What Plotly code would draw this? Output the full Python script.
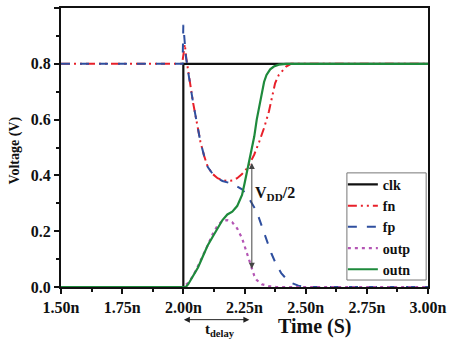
import plotly.graph_objects as go

# ---- data (time in ns, voltage in V) ----
clk_t = [1.5, 2.0, 2.0, 3.0]
clk_v = [0.0, 0.0, 0.8, 0.8]

fn_t = [1.5, 1.995, 2.0, 2.006, 2.012, 2.02, 2.03, 2.04, 2.055, 2.07, 2.085, 2.10,
        2.12, 2.14, 2.16, 2.18, 2.20, 2.22, 2.24, 2.26, 2.27, 2.29, 2.31, 2.33,
        2.35, 2.365, 2.375, 2.39, 2.40, 2.42, 2.44, 3.0]
fn_v = [0.8, 0.8, 0.83, 0.87, 0.82, 0.77, 0.71, 0.66, 0.59, 0.52, 0.47, 0.43,
        0.405, 0.39, 0.383, 0.38, 0.382, 0.39, 0.405, 0.425, 0.44, 0.475, 0.52, 0.57,
        0.63, 0.69, 0.73, 0.76, 0.77, 0.79, 0.80, 0.80]

fp_t = [1.5, 1.997, 2.0, 2.004, 2.01, 2.02, 2.03, 2.04, 2.055, 2.07, 2.085, 2.10,
        2.12, 2.14, 2.16, 2.18, 2.20, 2.22, 2.24, 2.26, 2.28, 2.30, 2.32, 2.34,
        2.36, 2.38, 2.40, 2.42, 2.44, 2.47, 2.50, 3.0]
fp_v = [0.8, 0.8, 0.94, 0.90, 0.83, 0.77, 0.71, 0.66, 0.59, 0.52, 0.47, 0.43,
        0.405, 0.39, 0.38, 0.375, 0.37, 0.36, 0.35, 0.33, 0.30, 0.27, 0.22, 0.17,
        0.12, 0.08, 0.05, 0.03, 0.015, 0.005, 0.0, 0.0]

outp_t = [1.5, 2.0, 2.02, 2.04, 2.06, 2.08, 2.10, 2.12, 2.14, 2.16, 2.18, 2.20,
          2.22, 2.24, 2.255, 2.27, 2.28, 2.29, 2.30, 2.32, 2.35, 2.38, 3.0]
outp_v = [0.0, 0.0, 0.015, 0.04, 0.075, 0.11, 0.15, 0.19, 0.22, 0.238, 0.24, 0.232,
          0.21, 0.175, 0.135, 0.09, 0.06, 0.04, 0.025, 0.01, 0.003, 0.0, 0.0]

outn_t = [1.5, 2.01, 2.02, 2.04, 2.06, 2.08, 2.10, 2.12, 2.14, 2.16, 2.18, 2.20,
          2.22, 2.24, 2.25, 2.26, 2.27, 2.28, 2.29, 2.30, 2.31, 2.32, 2.33, 2.34,
          2.355, 2.37, 2.39, 2.42, 3.0]
outn_v = [0.0, 0.0, 0.01, 0.04, 0.07, 0.11, 0.15, 0.18, 0.21, 0.24, 0.26, 0.27,
          0.29, 0.33, 0.37, 0.41, 0.45, 0.49, 0.54, 0.60, 0.65, 0.70, 0.735, 0.76,
          0.78, 0.79, 0.797, 0.80, 0.80]

x_ticks = [1.5, 1.75, 2.0, 2.25, 2.5, 2.75, 3.0]
x_ticklabels = ["1.50n", "1.75n", "2.00n", "2.25n", "2.50n", "2.75n", "3.00n"]
x_minor = [1.625, 1.875, 2.125, 2.375, 2.625, 2.875]
y_ticks = [0.0, 0.2, 0.4, 0.6, 0.8, 1.0]
y_ticklabels = ["0.0", "0.2", "0.4", "0.6", "0.8", "1.0"]
y_minor = [0.1, 0.3, 0.5, 0.7, 0.9]

SERIF = "Liberation Serif"

fig = go.Figure()
fig.add_trace(go.Scatter(x=clk_t, y=clk_v, name="clk", mode="lines",
                         line=dict(color="#111111", width=2.2)))
fig.add_trace(go.Scatter(x=fn_t, y=fn_v, name="fn", mode="lines",
                         line=dict(color="#e8202a", width=2,
                                   dash="9px,4px,2px,4px,2px,4px")))
fig.add_trace(go.Scatter(x=fp_t, y=fp_v, name="fp", mode="lines",
                         line=dict(color="#2f4f9f", width=2, dash="9px,10px")))
fig.add_trace(go.Scatter(x=outp_t, y=outp_v, name="outp", mode="lines",
                         line=dict(color="#b455b4", width=2.2, dash="3px,4px")))
fig.add_trace(go.Scatter(x=outn_t, y=outn_v, name="outn", mode="lines",
                         line=dict(color="#1e8a3c", width=2.2)))

axis_common = dict(showgrid=False, zeroline=False, showline=True, linecolor="#111111",
                   linewidth=2, mirror=True, ticks="outside", ticklen=5, tickwidth=1.5,
                   tickcolor="#111111",
                   tickfont=dict(family=SERIF, size=16, color="#111111", weight="bold"))

fig.update_xaxes(range=[1.5, 3.0], tickmode="array", tickvals=x_ticks, ticktext=x_ticklabels,
                 minor=dict(tickmode="array", tickvals=x_minor, ticks="outside", ticklen=3,
                            tickwidth=1.5, tickcolor="#111111"),
                 **axis_common)
fig.update_yaxes(range=[0, 1.0], tickmode="array", tickvals=y_ticks, ticktext=y_ticklabels,
                 minor=dict(tickmode="array", tickvals=y_minor, ticks="outside", ticklen=3,
                            tickwidth=1.5, tickcolor="#111111"),
                 **axis_common)

annotations = [
    # V_DD/2 double arrow
    dict(x=2.28, y=0.065, ax=2.28, ay=0.45, xref="x", yref="y", axref="x", ayref="y",
         text="", showarrow=True, arrowhead=2, startarrowhead=2, arrowside="end+start",
         arrowsize=1.2, arrowwidth=1, arrowcolor="#444444"),
    dict(x=2.285, y=0.335, xref="x", yref="y", xanchor="left", yanchor="middle",
         text="V<sub>DD</sub>/2", showarrow=False,
         font=dict(family=SERIF, size=16, color="#111111", weight="bold")),
    # t_delay double arrow
    dict(x=2.27, y=-0.117, xref="x", yref="paper", ax=-67, ay=0, axref="pixel", ayref="pixel",
         text="", showarrow=True, arrowhead=2, startarrowhead=2, arrowside="end+start",
         arrowsize=1.2, arrowwidth=1, arrowcolor="#222222"),
    dict(x=2.15, y=-0.155, xref="x", yref="paper", xanchor="center", yanchor="middle",
         text="t<sub>delay</sub>", showarrow=False,
         font=dict(family=SERIF, size=15, color="#111111", weight="bold")),
    # axis titles
    dict(x=2.54, y=-0.14, xref="x", yref="paper", xanchor="center", yanchor="middle",
         text="Time (S)", showarrow=False,
         font=dict(family=SERIF, size=20, color="#111111", weight="bold")),
    dict(x=-0.125, y=0.49, xref="paper", yref="paper", xanchor="center", yanchor="middle",
         text="Voltage (V)", textangle=-90, showarrow=False,
         font=dict(family=SERIF, size=14, color="#111111", weight="bold")),
]

# legend frame (tighter than plotly's own legend padding)
shapes = [
    dict(type="rect", xref="paper", yref="paper", x0=0.779, x1=0.995, y0=0.025, y1=0.409,
         line=dict(color="#777777", width=1), fillcolor="white", layer="above"),
]

fig.update_layout(
    width=474, height=364,
    margin=dict(l=61, r=46, t=6, b=77),
    paper_bgcolor="white", plot_bgcolor="white",
    annotations=annotations,
    shapes=shapes,
    legend=dict(x=0.768, y=0.4235, xanchor="left", yanchor="top",
                bgcolor="rgba(0,0,0,0)", borderwidth=0,
                font=dict(family=SERIF, size=14, color="#111111", weight="bold"),
                itemwidth=30, tracegroupgap=0),
)

fig.write_html("out.html", config={"displayModeBar": False},
               post_script="document.body.style.margin='0';")
